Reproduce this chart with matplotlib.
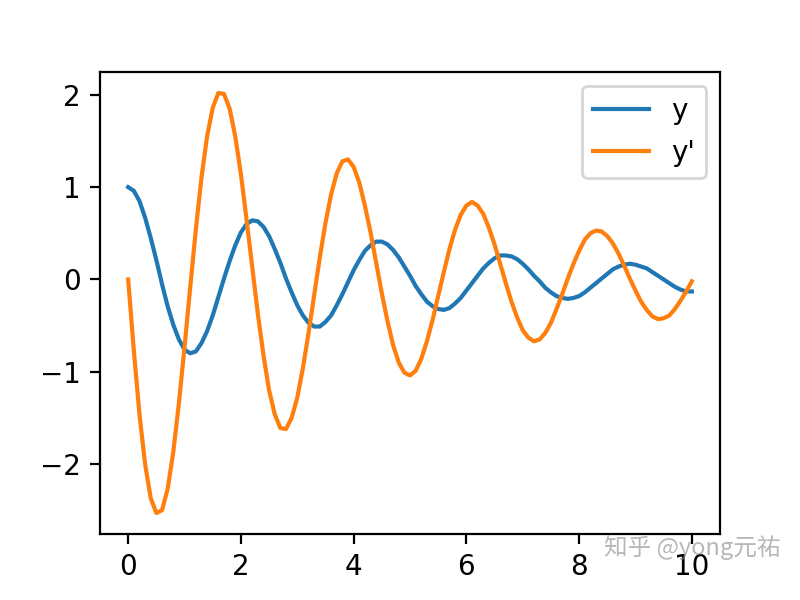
import numpy as np
import matplotlib
matplotlib.use("Agg")
import matplotlib.pyplot as plt

# values, one every 0.1 from t = 0 to t = 10
y = [1.00, 0.96, 0.85, 0.67, 0.45, 0.21, -0.05, -0.29, -0.49, -0.65,
     -0.76, -0.80, -0.78, -0.69, -0.56, -0.39, -0.19, 0.01, 0.20, 0.37,
     0.51, 0.60, 0.64, 0.63, 0.57, 0.47, 0.33, 0.18, 0.01, -0.14,
     -0.28, -0.39, -0.47, -0.51, -0.51, -0.46, -0.39, -0.28, -0.16, -0.03,
     0.10, 0.21, 0.31, 0.37, 0.41, 0.41, 0.38, 0.32, 0.24, 0.14,
     0.04, -0.07, -0.16, -0.24, -0.29, -0.32, -0.33, -0.31, -0.26, -0.20,
     -0.12, -0.04, 0.04, 0.12, 0.18, 0.23, 0.26, 0.26, 0.25, 0.22,
     0.17, 0.11, 0.04, -0.02, -0.09, -0.14, -0.18, -0.20, -0.21, -0.20,
     -0.18, -0.14, -0.09, -0.04, 0.01, 0.06, 0.11, 0.14, 0.16, 0.17,
     0.16, 0.14, 0.12, 0.08, 0.04, 0.00, -0.04, -0.08, -0.11, -0.13,
     -0.13]

dy = [0.00, -0.77, -1.46, -2.00, -2.37, -2.53, -2.50, -2.27, -1.87, -1.34,
      -0.73, -0.09, 0.54, 1.10, 1.55, 1.86, 2.02, 2.01, 1.85, 1.55,
      1.14, 0.65, 0.14, -0.37, -0.82, -1.20, -1.46, -1.61, -1.62, -1.50,
      -1.28, -0.96, -0.58, -0.17, 0.24, 0.61, 0.92, 1.15, 1.28, 1.30,
      1.22, 1.05, 0.80, 0.51, 0.18, -0.15, -0.45, -0.71, -0.90, -1.01,
      -1.04, -0.99, -0.86, -0.67, -0.44, -0.18, 0.08, 0.33, 0.54, 0.70,
      0.80, 0.84, 0.80, 0.71, 0.56, 0.38, 0.17, -0.04, -0.24, -0.41,
      -0.55, -0.63, -0.67, -0.65, -0.58, -0.47, -0.32, -0.16, 0.01, 0.17,
      0.31, 0.43, 0.50, 0.53, 0.52, 0.47, 0.39, 0.28, 0.15, 0.01,
      -0.12, -0.24, -0.33, -0.40, -0.43, -0.42, -0.39, -0.32, -0.23, -0.13,
      -0.02]

t = np.linspace(0, 10, len(y))

fig, ax = plt.subplots(figsize=(4, 3), dpi=200)

ax.plot(t, y, label='y', lw=1.5, solid_joinstyle='round')
ax.plot(t, dy, label="y'", lw=1.5, solid_joinstyle='round')
ax.legend(loc='upper right')

# watermark
fig.text(0.865, 0.087, '知乎 @yong元祐', fontsize=8.5, color='#888888', alpha=0.6,
         ha='center', va='center', family=['Noto Sans CJK SC', 'DejaVu Sans'])

plt.savefig('out.png', dpi=200)
